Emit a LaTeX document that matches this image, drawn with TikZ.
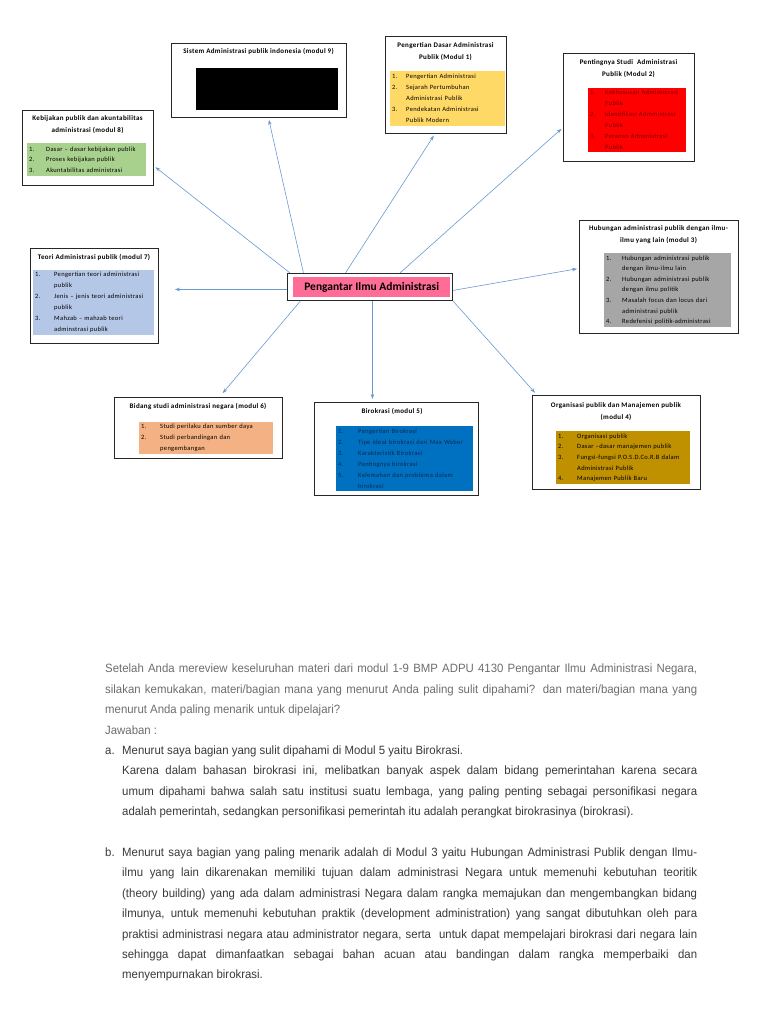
\documentclass[tikz,border=0pt]{standalone}
\usepackage{fontspec}
\setmainfont{Carlito}
\newfontfamily\kotakfont[LetterSpace=5]{Carlito}
\newfontfamily\arialfont[FakeStretch=0.95]{Liberation Sans}
\usetikzlibrary{arrows.meta, positioning, calc}
\definecolor{garisbiru}{HTML}{6A9AD3}
\definecolor{kuning}{HTML}{FFD966}
\definecolor{merah}{HTML}{FF0000}
\definecolor{merahtua}{HTML}{7E0000}
\definecolor{hijau}{HTML}{A9D18E}
\definecolor{abu}{HTML}{A6A6A6}
\definecolor{birumuda}{HTML}{B4C7E7}
\definecolor{merahmuda}{HTML}{FF6D97}
\definecolor{oranye}{HTML}{F4B183}
\definecolor{biru}{HTML}{0070C0}
\definecolor{birutua}{HTML}{0D2A4F}
\definecolor{emas}{HTML}{BF9000}
\definecolor{abuteks}{HTML}{6E6E6E}
\definecolor{hitamteks}{HTML}{3A3A3A}
\newcommand{\butir}[3][14pt]{\hangindent=#1\hangafter=1\noindent\makebox[#1][l]{#2}#3\par}
\newcommand{\labeljawab}[1]{\noindent\llap{\makebox[17pt][l]{#1}}}

\begin{document}
\begin{tikzpicture}[x=1pt, y=-1pt,
  kotak/.style={draw=black!85, line width=0.9pt, fill=white, anchor=north west, inner sep=0pt},
  judul/.style={anchor=north, align=center, inner sep=0pt, font=\kotakfont\fontsize{7}{12}\selectfont\bfseries},
  isi/.style={anchor=north west, inner xsep=2pt, inner ysep=0pt, align=left, font=\kotakfont\fontsize{6.5}{11}\selectfont},
  panah/.style={draw=garisbiru, line width=0.6pt, -{Stealth[length=5pt, width=3.5pt]}, shorten >=2pt}]
  \fill[white] (0,0) rectangle (768,1024);
  \useasboundingbox (0,0) rectangle (768,1024);

  % kotak modul
  \node[kotak, minimum width=175pt, minimum height=74pt] (m9) at (171,43) {};
  \node[judul] (j9) at (258.5,48.5) {Sistem Administrasi publik indonesia (modul 9)};
  \node[fill=black, anchor=north west, minimum width=142pt, minimum height=42pt, inner sep=0pt] (isi9) at (196,68) {};

  \node[kotak, minimum width=121pt, minimum height=97pt] (m1) at (385,36) {};
  \node[judul] (j1) at (445.5,42.5) {Pengertian Dasar Administrasi\\Publik (Modul 1)};
  \node[isi, fill=kuning, text width=111pt, minimum height=55pt] (isi1) at (390,71) {%
    \butir{1.}{Pengertian Administrasi}
    \butir{2.}{Sejarah Pertumbuhan\newline Administrasi Publik}
    \butir{3.}{Pendekatan Administrasi\newline Publik Modern}};

  \node[kotak, minimum width=131pt, minimum height=108pt] (m2) at (563,53) {};
  \node[judul] (j2) at (628.5,59.5) {Pentingnya Studi\ \ Administrasi\\Publik (Modul 2)};
  \node[isi, fill=merah, text=merahtua, text width=94pt, minimum height=64pt] (isi2) at (588,88) {%
    \butir[15pt]{1.}{Kekhususan Administrasi\newline Publik}
    \butir[15pt]{2.}{Identifikasi Administrasi\newline Publik}
    \butir[15pt]{3.}{Peranan Administrasi\newline Publik}};

  \node[kotak, minimum width=131pt, minimum height=75pt] (m8) at (22,110) {};
  \node[judul] (j8) at (87.5,115.5) {Kebijakan publik dan akuntabilitas\\administrasi (modul 8)};
  \node[isi, fill=hijau, text width=115pt, minimum height=33pt, font=\kotakfont\fontsize{6.5}{10.5}\selectfont] (isi8) at (27,143) {%
    \butir[17pt]{1.}{Dasar – dasar kebijakan publik}
    \butir[17pt]{2.}{Proses kebijakan publik}
    \butir[17pt]{3.}{Akuntabilitas administrasi}};

  \node[kotak, minimum width=159pt, minimum height=113pt] (m3) at (579,220) {};
  \node[judul] (j3) at (658.5,225.5) {Hubungan administrasi publik dengan ilmu-\\ilmu yang lain (modul 3)};
  \node[isi, fill=abu, text width=123pt, minimum height=74pt, font=\kotakfont\fontsize{6.5}{10.6}\selectfont] (isi3) at (604,253) {%
    \butir[16pt]{1.}{Hubungan administrasi publik\newline dengan ilmu-ilmu lain}
    \butir[16pt]{2.}{Hubungan administrasi publik\newline dengan ilmu politik}
    \butir[16pt]{3.}{Masalah focus dan locus dari\newline administrasi publik}
    \butir[16pt]{4.}{Redefenisi politik-administrasi}};

  \node[kotak, minimum width=128pt, minimum height=95pt] (m7) at (30,248) {};
  \node[judul] (j7) at (94,254.5) {Teori Administrasi publik (modul 7)};
  \node[isi, fill=birumuda, text width=117pt, minimum height=65pt] (isi7) at (33,270) {%
    \butir[19pt]{1.}{Pengertian teori administrasi\newline publik}
    \butir[19pt]{2.}{Jenis – jenis teori administrasi\newline publik}
    \butir[19pt]{3.}{Mahzab – mahzab teori\newline adminstrasi publik}};

  % pusat
  \node[kotak, minimum width=165pt, minimum height=27pt] (pusat) at (287,273) {};
  \node[fill=merahmuda, anchor=north west, minimum width=157pt, minimum height=20pt, inner sep=0pt,
    font=\fontsize{11.5}{12}\selectfont\bfseries] (pusatisi) at (293,277) {Pengantar Ilmu Administrasi};

  \node[kotak, minimum width=168pt, minimum height=61pt] (m6) at (114,397) {};
  \node[judul] (j6) at (198,403.5) {Bidang studi administrasi negara (modul 6)};
  \node[isi, fill=oranye, text width=130pt, minimum height=32pt] (isi6) at (139,422) {%
    \butir[19pt]{1.}{Studi perilaku dan sumber daya}
    \butir[19pt]{2.}{Studi perbandingan dan\newline pengembangan}};

  \node[kotak, minimum width=164pt, minimum height=93pt] (m5) at (314,402) {};
  \node[judul] (j5) at (392,408.5) {Birokrasi (modul 5)};
  \node[isi, fill=biru, text=birutua, text width=133pt, minimum height=65pt] (isi5) at (336,426) {%
    \butir[20pt]{1.}{Pengertian Birokrasi}
    \butir[20pt]{2.}{Tipe ideal birokrasi dari Max Weber}
    \butir[20pt]{3.}{Karakteristik Birokrasi}
    \butir[20pt]{4.}{Pentingnya birokrasi}
    \butir[20pt]{5.}{Kelemahan dan problema dalam\newline birokrasi}};

  \node[kotak, minimum width=168pt, minimum height=94pt] (m4) at (532,395) {};
  \node[judul] (j4) at (616,402.5) {Organisasi publik dan Manajemen publik\\(modul 4)};
  \node[isi, fill=emas, text width=130pt, minimum height=53pt, font=\kotakfont\fontsize{6.5}{10.7}\selectfont] (isi4) at (556,431) {%
    \butir[19pt]{1.}{Organisasi publik}
    \butir[19pt]{2.}{Dasar –dasar manajemen publik}
    \butir[19pt]{3.}{Fungsi-fungsi P.O.S.D.Co.R.B dalam\newline Administrasi Publik}
    \butir[19pt]{4.}{Manajemen Publik Baru}};

  % panah dari pusat
  \draw[panah] ([xshift=-66.5pt]pusat.north) -- ([xshift=9.5pt]m9.south);
  \draw[panah] ([xshift=-24.5pt]pusat.north) -- ([xshift=-11pt]m1.south);
  \draw[panah] ([xshift=30pt]pusat.north) -- ([yshift=-20pt]m2.west);
  \draw[panah] ([xshift=3pt]pusat.north west) -- ([yshift=-18pt]m8.east);
  \draw[panah] ([yshift=-3.5pt]pusat.east) -- ([yshift=8.5pt]m3.west);
  \draw[panah, shorten >=16pt] ([yshift=-2.5pt]pusat.west) -- ([yshift=6.5pt]m7.east);
  \draw[panah, shorten >=5pt] ([xshift=-69.5pt]pusat.south) -- ([xshift=21pt]m6.north);
  \draw[panah, shorten >=3pt] ([xshift=2.5pt]pusat.south) -- ([xshift=-24pt]m5.north);
  \draw[panah, shorten >=3pt] (pusat.south east) -- ([xshift=5pt]m4.north west);

  % teks pertanyaan dan jawaban
  \node[anchor=north west, inner sep=0pt, text width=592pt, align=justify, font=\arialfont\fontsize{12}{20.4}\selectfont] (uraian) at (105,664) {%
    \parindent=0pt
    {\color{abuteks}Setelah Anda mereview keseluruhan materi dari modul 1-9 BMP ADPU 4130 Pengantar Ilmu Administrasi Negara,\linebreak
    silakan kemukakan, materi/bagian mana yang menurut Anda paling sulit dipahami? dan materi/bagian mana yang\linebreak
    menurut Anda paling menarik untuk dipelajari?\newline
    Jawaban :\par}
    \color{hitamteks}\leftskip=17pt
    \labeljawab{a.}Menurut saya bagian yang sulit dipahami di Modul 5 yaitu Birokrasi.\newline
    Karena dalam bahasan birokrasi ini, melibatkan banyak aspek dalam bidang pemerintahan karena secara\linebreak
    umum dipahami bahwa salah satu institusi suatu lembaga, yang paling penting sebagai personifikasi negara\linebreak
    adalah pemerintah, sedangkan personifikasi pemerintah itu adalah perangkat birokrasinya (birokrasi).\par
    \vskip20.4pt
    \labeljawab{b.}Menurut saya bagian yang paling menarik adalah di Modul 3 yaitu Hubungan Administrasi Publik dengan Ilmu-\linebreak
    ilmu yang lain dikarenakan memiliki tujuan dalam administrasi Negara untuk memenuhi kebutuhan teoritik\linebreak
    (theory building) yang ada dalam administrasi Negara dalam rangka memajukan dan mengembangkan bidang\linebreak
    ilmunya, untuk memenuhi kebutuhan praktik (development administration) yang sangat dibutuhkan oleh para\linebreak
    praktisi administrasi negara atau administrator negara, serta\ \ untuk dapat mempelajari birokrasi dari negara lain\linebreak
    sehingga dapat dimanfaatkan sebagai bahan acuan atau bandingan dalam rangka memperbaiki dan\linebreak
    menyempurnakan birokrasi.\par};
\end{tikzpicture}
\end{document}
